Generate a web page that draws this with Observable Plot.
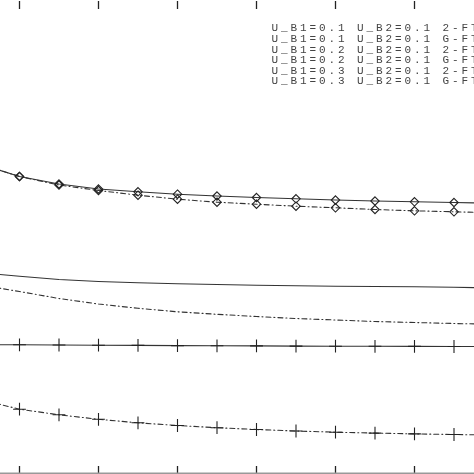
<!DOCTYPE html>
<html><head><meta charset="utf-8">
<script src="https://cdn.jsdelivr.net/npm/d3@7"></script>
<script src="https://cdn.jsdelivr.net/npm/@observablehq/plot@0.6"></script>
<style>html,body{margin:0;padding:0;background:#fff;overflow:hidden} svg{filter:grayscale(1)}</style>
</head><body><div id="chart"></div>
<script>
// x positions (step index); y values in arbitrary units
const xSteps = [0,1,2,3,4,5,6,7,8,9,10,11,12,13];
const b1_01_2F = [3.095,2.97,2.895,2.845,2.817,2.793,2.775,2.76,2.747,2.735,2.725,2.717,2.71,2.702];
const b1_01_GF = [3.095,2.97,2.885,2.83,2.783,2.743,2.713,2.693,2.673,2.657,2.64,2.627,2.617,2.607];
const b1_02_2F = [2.008,1.973,1.94,1.92,1.907,1.897,1.89,1.883,1.877,1.873,1.87,1.867,1.863,1.855];
const b1_02_GF = [1.885,1.82,1.75,1.695,1.652,1.617,1.592,1.57,1.55,1.535,1.52,1.51,1.5,1.492];
const b1_03_2F = [1.289,1.287,1.285,1.283,1.281,1.279,1.277,1.276,1.274,1.273,1.272,1.271,1.27,1.269];
const b1_03_GF = [0.74,0.643,0.587,0.542,0.507,0.48,0.458,0.44,0.425,0.413,0.404,0.396,0.39,0.384];
const xTicks = [1,3,5,7,9,11];
const legendLabels = [
  "U_B1=0.1 U_B2=0.1 2-FT",
  "U_B1=0.1 U_B2=0.1 G-FT",
  "U_B1=0.2 U_B2=0.1 2-FT",
  "U_B1=0.2 U_B2=0.1 G-FT",
  "U_B1=0.3 U_B2=0.1 2-FT",
  "U_B1=0.3 U_B2=0.1 G-FT"
];

const rows = (key, vals) => vals.map((y, i) => ({key, x: xSteps[i], y}));
const solidRows = [...rows("a", b1_01_2F), ...rows("c", b1_02_2F), ...rows("e", b1_03_2F)];
const dashRows = [...rows("b", b1_01_GF), ...rows("d", b1_02_GF), ...rows("f", b1_03_GF)];
const inView = d => d.x >= 1 && d.x <= 12;
const diamondRows = [...rows("a", b1_01_2F), ...rows("b", b1_01_GF)].filter(inView);
const plusRows = [...rows("e", b1_03_2F), ...rows("f", b1_03_GF)].filter(inView);

const ink = "#333";
const chart = Plot.plot({
  width: 474, height: 474,
  marginTop: 0, marginBottom: 1, marginLeft: 0, marginRight: 0,
  x: {domain: [0.519, 12.519]},
  y: {domain: [0, 4.73], axis: null},
  marks: [
    Plot.line(solidRows, {x: "x", y: "y", z: "key", stroke: ink, strokeWidth: 1.1, clip: true}),
    Plot.line(dashRows, {x: "x", y: "y", z: "key", stroke: ink, strokeWidth: 1.1, strokeDasharray: "5,3,1,3", clip: true}),
    Plot.dot(diamondRows, {x: "x", y: "y", symbol: "diamond2", r: 3.8, stroke: "#222", strokeWidth: 1.1, fill: "none"}),
    Plot.dot(plusRows, {x: "x", y: "y", symbol: "plus", r: 4.2, stroke: "#222", strokeWidth: 1.1}),
    Plot.axisX({anchor: "top", ticks: xTicks, tickSize: -8, tickFormat: () => "", label: null, stroke: "#222", strokeWidth: 1.3}),
    Plot.axisX({anchor: "bottom", ticks: xTicks, tickSize: -7, tickFormat: () => "", label: null, stroke: "#222", strokeWidth: 1.3}),
    Plot.ruleY([0], {stroke: "#999", strokeWidth: 2}),
    ...legendLabels.map((t, i) => Plot.text([t], {
      frameAnchor: "top-left", dx: 271, dy: 23 + i * 10.6, text: d => d,
      textAnchor: "start", fontFamily: "Liberation Mono", fontSize: 11, fill: "#444"
    }))
  ]
});
chart.querySelectorAll('g[font-family="Liberation Mono"]').forEach(g => g.setAttribute("letter-spacing", "2.9"));
document.getElementById("chart").appendChild(chart);
</script>
</body></html>
